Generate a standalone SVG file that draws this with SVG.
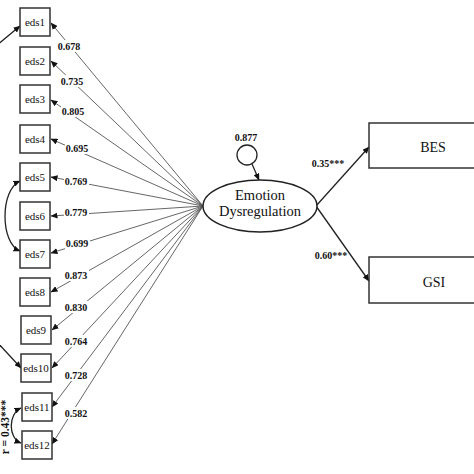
<svg xmlns="http://www.w3.org/2000/svg" width="474" height="474" viewBox="0 0 474 474">
<defs>
<marker id="ah" markerWidth="7" markerHeight="6" refX="6.5" refY="3" orient="auto-start-reverse" markerUnits="userSpaceOnUse">
<path d="M0,0 L7,3 L0,6 Z" fill="#111"/>
</marker>
<style>
.box{fill:#fff;stroke:#333;stroke-width:1.5}
.lab{font-family:"Liberation Serif","Times New Roman",serif;fill:#111}
.ind{font-size:11px}
.ld{font-size:10px;font-weight:bold}
.fan{stroke:#555;stroke-width:0.9;fill:none}
.dk{stroke:#222;stroke-width:1.3;fill:none}
.bg{fill:#fff}
</style>
</defs>
<rect width="474" height="474" fill="#fff"/>
<g id="connectors">
<line class="fan" x1="203" y1="206" x2="51" y2="23" marker-end="url(#ah)"/>
<line class="fan" x1="203" y1="206" x2="51" y2="61" marker-end="url(#ah)"/>
<line class="fan" x1="203" y1="206" x2="51" y2="100" marker-end="url(#ah)"/>
<line class="fan" x1="203" y1="206" x2="51" y2="139" marker-end="url(#ah)"/>
<line class="fan" x1="203" y1="206" x2="51" y2="177" marker-end="url(#ah)"/>
<line class="fan" x1="203" y1="206" x2="51" y2="216" marker-end="url(#ah)"/>
<line class="fan" x1="203" y1="206" x2="51" y2="253" marker-end="url(#ah)"/>
<line class="fan" x1="203" y1="206" x2="51" y2="292" marker-end="url(#ah)"/>
<line class="fan" x1="203" y1="206" x2="52" y2="330" marker-end="url(#ah)"/>
<line class="fan" x1="203" y1="206" x2="52" y2="368" marker-end="url(#ah)"/>
<line class="fan" x1="203" y1="206" x2="52" y2="407" marker-end="url(#ah)"/>
<line class="fan" x1="203" y1="206" x2="52" y2="444" marker-end="url(#ah)"/>
<line class="dk" x1="252" y1="164" x2="259" y2="180" marker-end="url(#ah)"/>
<line class="dk" x1="316" y1="206" x2="369" y2="147" marker-end="url(#ah)"/>
<line class="dk" x1="316" y1="206" x2="369" y2="281" marker-end="url(#ah)"/>
<line class="dk" x1="-4" y1="46" x2="20" y2="26" marker-end="url(#ah)"/>
<line class="dk" x1="-2" y1="343" x2="21" y2="368" marker-end="url(#ah)"/>
<path class="dk" d="M20,181 C0,190 0,243 20,251" marker-start="url(#ah)" marker-end="url(#ah)"/>
<path class="dk" d="M21,408 C8,414 8,438 21,443" marker-start="url(#ah)" marker-end="url(#ah)"/>
</g>
<g id="loadings">
<rect class="bg" x="57" y="40" width="25" height="12"/><text class="lab ld" x="69" y="49.5" text-anchor="middle">0.678</text>
<rect class="bg" x="60" y="75" width="25" height="12"/><text class="lab ld" x="72" y="84.5" text-anchor="middle">0.735</text>
<rect class="bg" x="61" y="105" width="25" height="12"/><text class="lab ld" x="73" y="114.5" text-anchor="middle">0.805</text>
<rect class="bg" x="65" y="142" width="25" height="12"/><text class="lab ld" x="77" y="151.5" text-anchor="middle">0.695</text>
<rect class="bg" x="64" y="175" width="25" height="12"/><text class="lab ld" x="76" y="184.5" text-anchor="middle">0.769</text>
<rect class="bg" x="64" y="206" width="25" height="12"/><text class="lab ld" x="76" y="215.5" text-anchor="middle">0.779</text>
<rect class="bg" x="65" y="237" width="25" height="12"/><text class="lab ld" x="77" y="246.5" text-anchor="middle">0.699</text>
<rect class="bg" x="64" y="269" width="25" height="12"/><text class="lab ld" x="76" y="278.5" text-anchor="middle">0.873</text>
<rect class="bg" x="64" y="301" width="25" height="12"/><text class="lab ld" x="76" y="310.5" text-anchor="middle">0.830</text>
<rect class="bg" x="64" y="335" width="25" height="12"/><text class="lab ld" x="76" y="344.5" text-anchor="middle">0.764</text>
<rect class="bg" x="64" y="369" width="25" height="12"/><text class="lab ld" x="76" y="378.5" text-anchor="middle">0.728</text>
<rect class="bg" x="64" y="407" width="25" height="12"/><text class="lab ld" x="76" y="416.5" text-anchor="middle">0.582</text>
<text class="lab ld" x="246" y="141" text-anchor="middle">0.877</text>
<text class="lab ld" x="328" y="167" text-anchor="middle">0.35***</text>
<text class="lab ld" x="331" y="259" text-anchor="middle">0.60***</text>
<text class="lab ld" transform="translate(9,427) rotate(-90)" text-anchor="middle" style="font-size:11.5px">r = 0.43***</text>
</g>
<g id="eds1"><rect class="box" x="20" y="8" width="30" height="28"/><text class="lab ind" x="35" y="26" text-anchor="middle">eds1</text></g>
<g id="eds2"><rect class="box" x="20" y="47" width="30" height="28"/><text class="lab ind" x="35" y="65" text-anchor="middle">eds2</text></g>
<g id="eds3"><rect class="box" x="20" y="85" width="30" height="28"/><text class="lab ind" x="35" y="103" text-anchor="middle">eds3</text></g>
<g id="eds4"><rect class="box" x="20" y="125" width="30" height="28"/><text class="lab ind" x="35" y="143" text-anchor="middle">eds4</text></g>
<g id="eds5"><rect class="box" x="20" y="163" width="30" height="28"/><text class="lab ind" x="35" y="181" text-anchor="middle">eds5</text></g>
<g id="eds6"><rect class="box" x="20" y="202" width="30" height="28"/><text class="lab ind" x="35" y="220" text-anchor="middle">eds6</text></g>
<g id="eds7"><rect class="box" x="20" y="240" width="30" height="28"/><text class="lab ind" x="35" y="258" text-anchor="middle">eds7</text></g>
<g id="eds8"><rect class="box" x="20" y="278" width="30" height="28"/><text class="lab ind" x="35" y="296" text-anchor="middle">eds8</text></g>
<g id="eds9"><rect class="box" x="21" y="316" width="30" height="28"/><text class="lab ind" x="36" y="334" text-anchor="middle">eds9</text></g>
<g id="eds10"><rect class="box" x="21" y="354" width="30" height="28"/><text class="lab ind" x="36" y="372" text-anchor="middle">eds10</text></g>
<g id="eds11"><rect class="box" x="22" y="393" width="30" height="28"/><text class="lab ind" x="37" y="411" text-anchor="middle">eds11</text></g>
<g id="eds12"><rect class="box" x="22" y="431" width="30" height="28"/><text class="lab ind" x="37" y="449" text-anchor="middle">eds12</text></g>
<g id="error"><circle cx="247" cy="155" r="10" fill="#fff" stroke="#222" stroke-width="1.3"/></g>
<g id="emotion-dysregulation"><ellipse cx="260" cy="206" rx="57" ry="26" fill="#fff" stroke="#222" stroke-width="1.5"/>
<text class="lab" x="260" y="200" text-anchor="middle" style="font-size:14.5px">Emotion</text>
<text class="lab" x="260" y="216" text-anchor="middle" style="font-size:14.5px">Dysregulation</text></g>
<g id="BES"><rect class="box" x="369" y="123" width="115" height="45"/><text class="lab" x="433" y="152" text-anchor="middle" style="font-size:14px">BES</text></g>
<g id="GSI"><rect class="box" x="369" y="257" width="115" height="46"/><text class="lab" x="434" y="287" text-anchor="middle" style="font-size:14px">GSI</text></g>
</svg>
